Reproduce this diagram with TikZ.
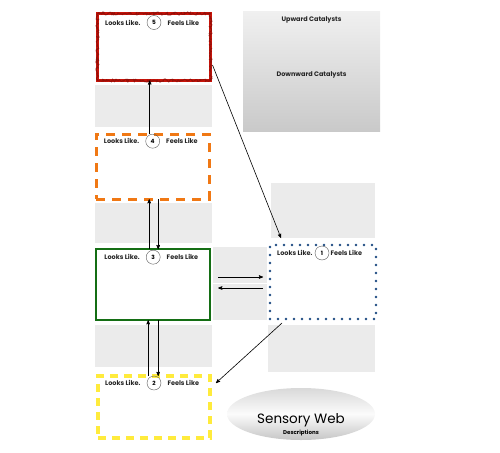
\documentclass[tikz,border=0pt]{standalone}
\usepackage{fontspec}
\setsansfont{Poppins}
\usetikzlibrary{arrows,positioning,shapes.geometric,decorations.pathmorphing}
\definecolor{fuzzred}{RGB}{200,20,10}
\definecolor{dashorange}{RGB}{240,120,20}
\definecolor{boxgreen}{RGB}{20,110,20}
\definecolor{dotblue}{RGB}{30,75,130}
\definecolor{dashyellow}{RGB}{255,235,60}

\begin{document}
\begin{tikzpicture}[x=1pt,y=-1pt,>=stealth',semithick,font=\sffamily]
\tikzstyle{panel}=[fill=gray!16,draw=none,inner sep=0pt,outer sep=0pt,anchor=north west]
\tikzstyle{sense}=[fill=white,inner sep=0pt,outer sep=0pt,anchor=north west]
\tikzstyle{num}=[circle,draw=gray!70!black,thin,inner sep=0pt,minimum size=14pt,font=\sffamily\bfseries\fontsize{5.8}{6}\selectfont]
\tikzstyle{tag}=[inner sep=1pt,font=\sffamily\bfseries\fontsize{6.5}{7}\selectfont,text=black!85]
\tikzstyle{fuzz}=[draw=fuzzred!75!black,line join=round,line cap=round,decorate,
                  decoration={random steps,segment length=1pt,amplitude=1.5pt}]

\useasboundingbox (0,0) rectangle (500,452);

        % grey backing panels
        \node[panel,minimum width=117pt,minimum height=42pt]   (g1)  at (95,85)   {};
        \node[panel,minimum width=117pt,minimum height=40pt]   (g2)  at (95,203)  {};
        \node[panel,minimum width=117pt,minimum height=42pt]   (g3)  at (95,325)  {};
        \node[panel,minimum width=54pt,minimum height=36pt]    (gm1) at (213,247) {};
        \node[panel,minimum width=54pt,minimum height=36pt]    (gm2) at (213,284) {};
        \node[panel,minimum width=104pt,minimum height=55pt]   (gr1) at (271,183) {};
        \node[panel,minimum width=107pt,minimum height=47pt]   (gr2) at (268,325) {};

        % catalysts box
        \node[panel,top color=gray!12,bottom color=gray!42,minimum width=137pt,minimum height=119pt] (cat) at (243,12) {};
        \node[tag] (up)   at ([yshift=-8pt]cat.north)  {Upward Catalysts};
        \node[tag] (down) at ([yshift=-3.5pt]cat.center) {Downward Catalysts};

        % the five sense boxes
        \node[sense,minimum width=113pt,minimum height=67pt,draw=fuzzred,line width=3.6pt] (b5) at (97.5,13.5) {};
        \draw[fuzz,line width=1pt] (b5.north west) -- (b5.north east) -- (b5.south east) -- (b5.south west) -- cycle;
        \node[sense,minimum width=113pt,minimum height=65pt,draw=dashorange,line width=2.6pt,
              dash pattern=on 9pt off 7pt]                                             (b4) at (96.2,134.2) {};
        \node[sense,minimum width=114pt,minimum height=71pt,draw=boxgreen,line width=2.5pt] (b3) at (96.2,249.2) {};
        \node[sense,minimum width=106pt,minimum height=74pt,draw=dotblue,line width=2.6pt,
              line cap=round,dash pattern=on 0pt off 8pt]                              (b1) at (270,245) {};
        \node[sense,minimum width=112pt,minimum height=62pt,draw=dashyellow,line width=4pt,
              dash pattern=on 8pt off 6pt]                                             (b2) at (98,376) {};

        % labels
        \node[num] (n5) at ([yshift=-9pt]b5.north) {5};
        \node[tag] (l5) [left=5pt of n5]  {Looks Like.};
        \node[tag] (f5) [right=5pt of n5] {Feels Like};

        \node[num] (n4) at ([yshift=-7pt]b4.north) {4};
        \node[tag] (l4) [left=5pt of n4]  {Looks Like.};
        \node[tag] (f4) [right=5pt of n4] {Feels Like};

        \node[num] (n3) at ([yshift=-8pt]b3.north) {3};
        \node[tag] (l3) [left=5pt of n3]  {Looks Like.};
        \node[tag] (f3) [right=5pt of n3] {Feels Like};

        \node[num] (n2) at ([yshift=-7pt]b2.north) {2};
        \node[tag] (l2) [left=5pt of n2]  {Looks Like.};
        \node[tag] (f2) [right=5pt of n2] {Feels Like};

        \node[num] (n1) at ([yshift=-8pt,xshift=-1pt]b1.north) {1};
        \node[tag] (l1) [left=1pt of n1]  {Looks Like.};
        \node[tag] (f1) [right=0pt of n1] {Feels Like};

        % title
        \node[ellipse,top color=gray!30,bottom color=gray!45,middle color=gray!3,
              minimum width=148pt,minimum height=52pt,inner sep=0pt] (web) at (301,414) {};
        \node[inner sep=0pt,font=\sffamily\fontsize{13.5}{14}\selectfont] (title) at ([yshift=-6pt]web.center) {Sensory Web};
        \node[inner sep=0pt,font=\sffamily\bfseries\fontsize{5.5}{6}\selectfont] (sub) at ([yshift=-19pt]web.center) {Descriptions};

        % connectors
        \draw[->] ([xshift=-3pt]b4.north)            -- ([xshift=-3pt]b4.north |- b5.south);
        \draw[->] ([xshift=-4pt]b3.north)            -- ([xshift=-4pt]b3.north |- b4.south);
        \draw[->] ([xshift=5pt]b3.north |- b4.south) -- ([xshift=5pt]b3.north);
        \draw[->] ([xshift=-5pt]b3.south |- b2.north) -- ([xshift=-5pt]b3.south);
        \draw[->] ([xshift=5pt]b3.south)             -- ([xshift=5pt]b3.south |- b2.north);
        \draw[->,shorten <=8pt,shorten >=7pt] ([yshift=7.7pt]b3.east) -- ([yshift=7.7pt]b3.east -| b1.west);
        \draw[->,shorten <=7pt,shorten >=8pt] ([yshift=-6pt]b1.west)  -- ([yshift=-6pt]b1.west -| b3.east);
        \draw[->] ([xshift=2pt,yshift=-18pt]b5.east) -- ([xshift=-42pt,yshift=7pt]b1.north);
        \draw[->] ([xshift=-41pt,yshift=-4pt]b1.south) -- ([xshift=6pt,yshift=24pt]b2.east);

\end{tikzpicture}
\end{document}
